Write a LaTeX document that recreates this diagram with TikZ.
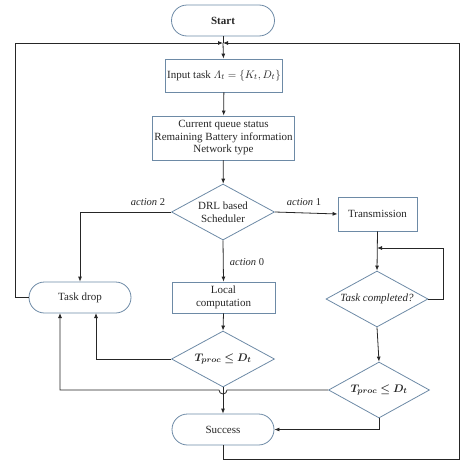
\documentclass[tikz,border=0pt]{standalone}
\usepackage{fontspec}
\usepackage{amsmath,bm}
\setmainfont{Liberation Serif}
\usetikzlibrary{shapes.geometric,arrows.meta}

\definecolor{edgeblue}{HTML}{6D8AA6}

\begin{document}
\begin{tikzpicture}
    [x=1pt,y=-1pt,font=\fontsize{11}{12.5}\selectfont,
     every node/.style={align=center,text=black!85},
     term/.style={draw=edgeblue,thick,rounded corners=15.5pt,minimum width=103pt,minimum height=31pt},
     box/.style={draw=edgeblue,thick,inner sep=2pt},
     cond/.style={draw=edgeblue,thick,diamond,aspect=1.84,inner sep=0pt,minimum width=103pt,minimum height=56pt},
     lbl/.style={font=\fontsize{10.5}{12}\selectfont},
     arr/.style={-{Latex[length=5pt,width=4pt]},thick,black!85}]
    \useasboundingbox (0,0) rectangle (474,474);
    \node[term] (start) at (223,20.5) {\textbf{Start}};
    \node[box,minimum width=110pt,minimum height=33pt] (input) at (224,75.5) {Input task $\varLambda_t=\{K_t,D_t\}$};
    \node[box,minimum width=141pt,minimum height=44pt] (status) at (223.5,138) {Current queue status\\Remaining Battery information\\Network type};
    \node[cond] (drl) at (223,212) {DRL based\\Scheduler};
    \node[box,minimum width=79pt,minimum height=34pt] (trans) at (377.5,214) {Transmission};
    \node[term,minimum width=102pt] (drop) at (80,297.5) {Task drop};
    \node[box,minimum width=103pt,minimum height=31pt] (local) at (223.5,297.5) {Local\\computation};
    \node[cond,minimum width=102pt] (done) at (377,299) {\textit{Task completed?}};
    \node[cond] (tp1) at (223,359) {$\bm{T_{proc}\le D_t}$};
    \node[cond,minimum width=101pt] (tp2) at (379,390) {$\bm{T_{proc}\le D_t}$};
    \node[term,minimum width=102pt] (succ) at (223,429.5) {Success};
    \node[lbl] (a2) at (148,202) {\textit{action} 2};
    \node[lbl] (a1) at (304,202) {\textit{action} 1};
    \node[lbl] (a0) at (247,262) {\textit{action} 0};
    \coordinate (join) at (223,43);
    \coordinate (lc) at (15,43);
    \coordinate (rc) at (459,43);
    \coordinate (br) at (459,459);
    \coordinate (lp) at (443,248);
    \coordinate (lpe) at (377,248);
    \coordinate (d1) at (96,313);
    \coordinate (d2) at (60,313);
    \draw[thick,black!85] (start) -- (join);
    \draw[arr] (drop.west) -| (lc) -- (join);
    \draw[arr] (succ.south) |- (br) -- (rc) -- (join);
    \draw[arr] (join) -- (input);
    \draw[arr] (input) -- (status);
    \draw[arr] (status) -- (drl);
    \draw[arr] (drl.west) -| (drop.north);
    \draw[arr] (drl.east) -- (trans.west);
    \draw[arr] (drl.south) -- (local.north);
    \draw[arr] (trans.south) -- (done.north);
    \draw[arr] (done.east) -| (lp) -- (lpe);
    \draw[arr] (done.south) -- (tp2.north);
    \draw[arr] (local.south) -- (tp1.north);
    \draw[arr] (tp1.west) -| (d1);
    \draw[arr] (tp2.west) -- (227,390) arc (0:180:4) -| (d2);
    \draw[arr] (tp1.south) -- (succ.north);
    \draw[arr] (tp2.south) |- (succ.east);
\end{tikzpicture}
\end{document}
